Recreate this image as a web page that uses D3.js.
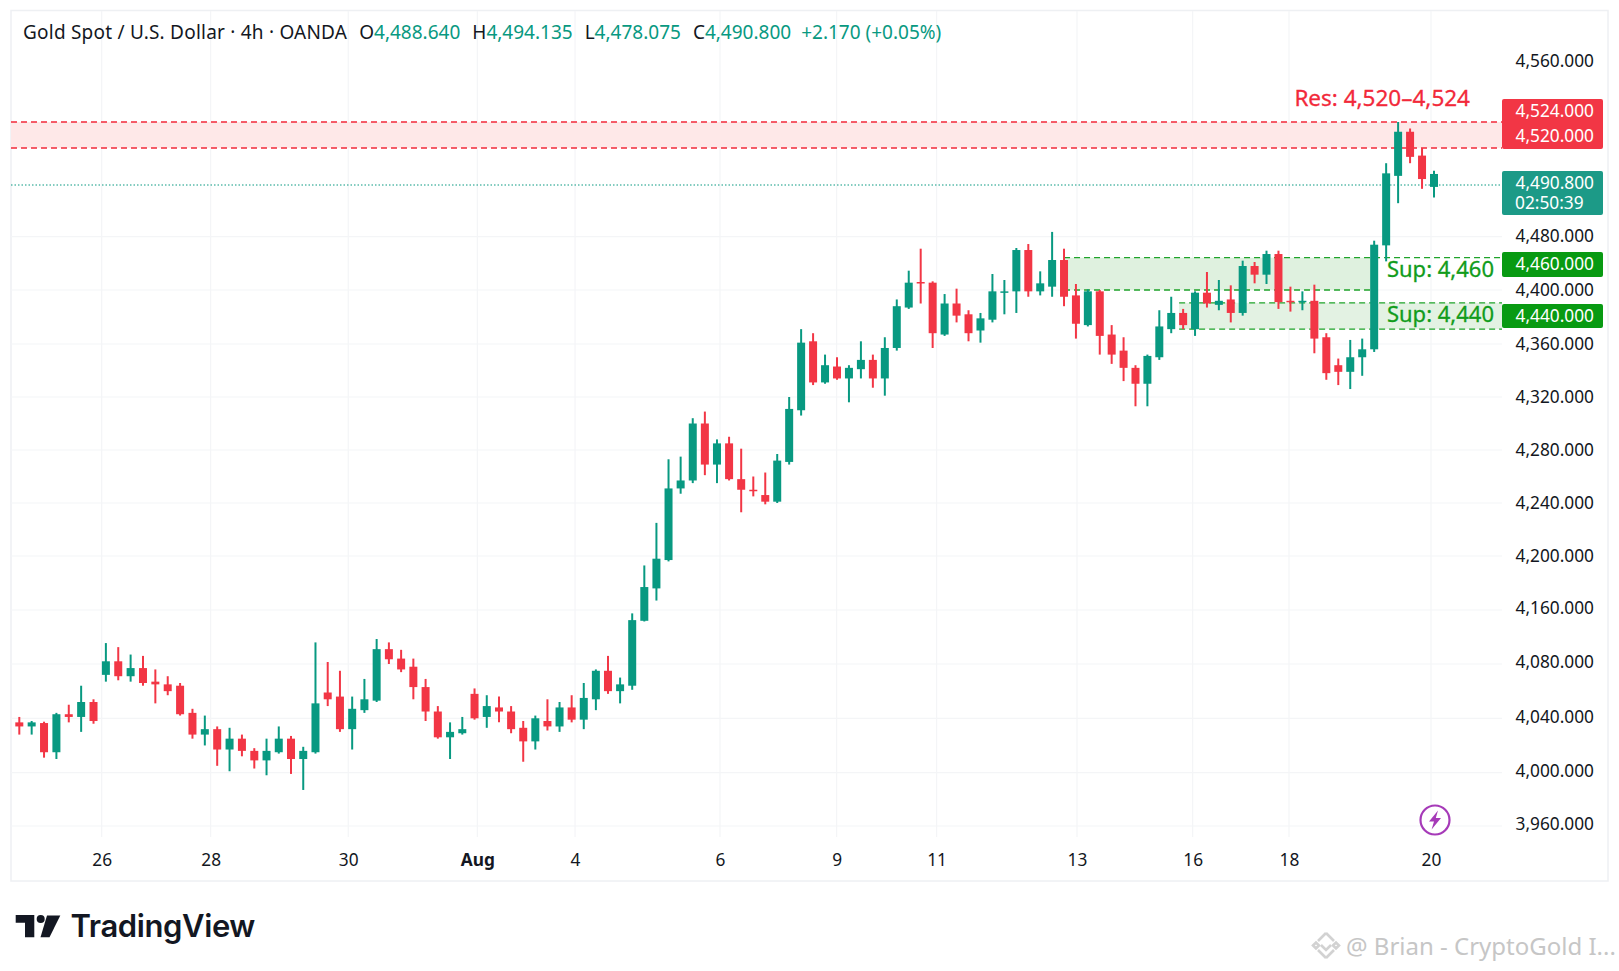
<!DOCTYPE html>
<html>
<head>
<meta charset="utf-8">
<title>Gold Spot / U.S. Dollar 4h</title>
<script src="https://cdn.jsdelivr.net/npm/d3@7"></script>
<style>
  html, body { margin: 0; padding: 0; background: #fff; }
  svg { display: block; font-family: "Noto Sans", sans-serif; }
  .axis path { display: none; }
  .axis line { display: none; }
  .axis text { font-family: "Noto Sans", sans-serif; font-size: 17.3px; fill: #131722; }
</style>
</head>
<body>
<div id="chart"></div>
<script>
// Candle values, against the printed price axis
const opens = [
  4037,4034,4036.5,4015,4043,4041,4052,4072,4084,4071,
  4077,4067,4065,4064,4044,4028,4032,4017,4025,4016,
  4009,4015,4025,4010,4015,4059,4056,4032,4046,4053,
  4102,4088,4078,4063,4045,4026,4029,4058,4041,4048,
  4045,4033,4023,4038,4034,4048,4039,4054,4075,4060,
  4064,4144,4176,4197,4251,4257,4300,4269,4285,4258,
  4250,4246,4241,4271,4310,4362,4331,4343,4334,4341,
  4348,4334,4357,4387,4412,4411,4367,4390,4382,4370,
  4378,4398,4399,4460,4399,4405,4445,4396,4374,4399,
  4367,4355,4342,4330,4350,4371,4383,4371,4398,4389,
  4393,4383,4436,4423,4454,4392,4391,4392,4365,4344,
  4339,4350,4356,4467,4498,4522.5,4514,4490.4
];
const highs = [
  4041,4038,4037.5,4044,4050,4064,4054,4111,4105,4094,
  4092,4076,4071,4066,4047,4042,4034,4033,4028,4018,
  4025,4034,4027,4019,4112,4083,4075,4056,4069,4117,
  4112,4101,4088,4069,4049,4037,4041,4062,4057,4056,
  4049,4038,4042,4054,4052,4057,4066,4076,4092,4070,
  4155,4193,4225,4273,4275,4304,4309,4288,4290,4281,
  4260,4263,4277,4320,4371,4368,4352,4350,4344,4362,
  4352,4365,4393,4429,4462,4413,4397,4402,4385,4383,
  4424,4415,4463,4469,4428,4481,4462,4409,4401,4400,
  4374,4365,4344,4352,4385,4395,4386,4399,4427,4415,
  4407,4444,4442,4459,4459,4405,4399,4408,4368,4349,
  4363,4364,4474,4508,4524,4523,4520,4502
];
const lows = [
  4028,4028,4011,4010,4037,4030,4036,4067,4068,4067,
  4064,4051,4057,4042,4025,4020,4005,4001,4012,4003,
  3998,4014,3999,3987,4014,4049,4030,4017,4044,4052,
  4080,4074,4054,4038,4025,4010,4028,4039,4033,4037,
  4029,4008,4017,4031,4030,4037,4032,4046,4058,4051,
  4061,4143,4167,4196,4247,4255,4261,4255,4257,4233,
  4245,4239,4240,4269,4306,4329,4330,4333,4316,4334,
  4327,4321,4355,4386,4390,4357,4366,4376,4362,4361,
  4376,4382,4383,4395,4396,4395,4388,4364,4373,4352,
  4345,4332,4313,4313,4348,4368,4371,4366,4387,4385,
  4376,4381,4410,4409,4386,4384,4385,4353,4333,4329,
  4326,4336,4354,4443,4487,4508,4490,4488.2
];
const closes = [
  4034,4037,4015,4043,4041,4052,4038,4084,4071,4077,
  4066,4065,4060,4043,4028,4032,4017,4025,4016,4009,
  4016,4025,4010,4016,4051,4054,4032,4047,4054,4102,
  4087,4076,4063,4045,4026,4030,4032,4040,4049,4045,
  4032,4023,4040,4034,4048,4039,4055,4075,4060,4065,
  4145,4177,4198,4251,4257,4300,4269,4285,4258,4250,
  4249,4241,4272,4311,4361,4331,4344,4334,4342,4348,
  4334,4357,4388,4411,4410,4368,4390,4381,4368,4379,
  4399,4399,4460,4399,4410,4445,4395,4375,4399,4366,
  4352,4342,4330,4351,4373,4383,4374,4398,4390,4392,
  4383,4436,4423,4454,4391,4391,4392,4364,4338,4339,
  4350,4356,4468,4500,4522.5,4513,4495.5,4499.5
];

// Axis labels. The printed scale is not even, so the stops are kept apart from the ticks
const priceTicks = [3960,4000,4040,4080,4160,4200,4240,4280,4320,4360,4400,4480,4560];
const timeTicks = [6.66,15.47,26.68,37.23,45.28,57.25,66.97,75.33,87.09,96.8,104.88,116.75];
const timeLabels = ["26","28","30","Aug","4","6","9","11","13","16","18","20"];

// Levels drawn on the chart
const lastPrice = 4490.8;
const resZone = [4520,4524];
const supUpper = [4400,4448.5];
const supLower = [4371,4390.5];

const width = 1619, height = 971;
const plot = { left: 11, right: 1502, top: 11, bottom: 837 };
const green = "#089981", red = "#f23645", tagGreen = "#089a12", tagTeal = "#1c9a87";

const fmt = d3.format(",.3f");

const svg = d3.select("#chart").append("svg")
  .attr("width", width)
  .attr("height", height);

// The candle spacing drifts a little across the picture
const x = d3.scaleLinear()
  .domain([0, 19, 39, 60, 83, 103, 117])
  .range([19.3, 254.3, 499, 753.3, 1028.3, 1266.5, 1434]);
const y = d3.scaleLinear()
  .domain([3960,4000,4040,4080,4160,4200,4240,4280,4320,4360,4400,4480,lastPrice,resZone[0],resZone[1],4560])
  .range([826,772.6,718.3,664,610,556,503,450,397,344,290,236.7,185,148,122,61]);

// Outer frame
svg.append("rect")
  .attr("x", 11).attr("y", 10.5)
  .attr("width", 1597).attr("height", 870.5)
  .attr("fill", "none").attr("stroke", "#eef0f3").attr("stroke-width", 1.5);

// Grid
svg.append("g").selectAll("line")
  .data(priceTicks.slice(0, -1))
  .join("line")
  .attr("x1", plot.left).attr("x2", plot.right)
  .attr("y1", d => y(d)).attr("y2", d => y(d))
  .attr("stroke", "#f4f5f7").attr("stroke-width", 1.2);

svg.append("g").selectAll("line")
  .data(timeTicks)
  .join("line")
  .attr("x1", d => x(d)).attr("x2", d => x(d))
  .attr("y1", plot.top).attr("y2", plot.bottom)
  .attr("stroke", "#f4f5f7").attr("stroke-width", 1.2);

// Zones go under the candles
function drawZone(levels, x0, x1, fill, colour, lowerEnd) {
  svg.append("rect")
    .attr("x", x0).attr("width", x1 - x0)
    .attr("y", y(levels[1])).attr("height", y(levels[0]) - y(levels[1]))
    .attr("fill", fill);
  svg.append("line")
    .attr("x1", x0).attr("x2", lowerEnd)
    .attr("y1", y(levels[0])).attr("y2", y(levels[0]))
    .attr("stroke", colour).attr("stroke-width", 1.3).attr("stroke-dasharray", "6 4");
  svg.append("line")
    .attr("x1", x0).attr("x2", plot.right)
    .attr("y1", y(levels[1])).attr("y2", y(levels[1]))
    .attr("stroke", colour).attr("stroke-width", 1.3).attr("stroke-dasharray", "6 4");
}
drawZone(resZone, plot.left, plot.right, "#fee8e8", "#f2293a", plot.right);
drawZone(supUpper, x(86), x(112), "#dff1df", "#1fa32a", x(112));
drawZone(supLower, x(96) - 4, plot.right, "#e3f2e3", "#1fa32a", plot.right);

// Last price line
svg.append("line")
  .attr("x1", plot.left).attr("x2", plot.right)
  .attr("y1", y(lastPrice)).attr("y2", y(lastPrice))
  .attr("stroke", green).attr("stroke-width", 1).attr("stroke-dasharray", "1.5 2");

// Candles
const candles = svg.append("g").selectAll("g")
  .data(d3.range(opens.length))
  .join("g")
  .attr("fill", i => closes[i] >= opens[i] ? green : red)
  .attr("stroke", i => closes[i] >= opens[i] ? green : red);

candles.append("line")
  .attr("x1", i => x(i)).attr("x2", i => x(i))
  .attr("y1", i => y(highs[i])).attr("y2", i => y(lows[i]))
  .attr("stroke-width", 2);

candles.append("rect")
  .attr("x", i => x(i) - 4)
  .attr("width", 8)
  .attr("y", i => y(Math.max(opens[i], closes[i])))
  .attr("height", i => Math.max(1.5, Math.abs(y(opens[i]) - y(closes[i]))))
  .attr("stroke", "none");

// Axes
svg.append("g")
  .attr("class", "axis")
  .attr("transform", "translate(1594,0)")
  .call(d3.axisLeft(y).tickValues(priceTicks).tickFormat(fmt).tickSize(0).tickPadding(0))
  .selectAll("text")
  .attr("y", d => d <= 4160 ? -1.8 : -0.5);

svg.append("g")
  .attr("class", "axis")
  .attr("transform", "translate(0,854)")
  .call(d3.axisBottom(x).tickValues(timeTicks).tickFormat((d, i) => timeLabels[i]).tickSize(0).tickPadding(0))
  .selectAll("text")
  .style("font-weight", (d, i) => timeLabels[i] === "Aug" ? 700 : null);

// Price tags on the axis
function priceTag(y0, y1, fill, lines) {
  svg.append("rect")
    .attr("x", 1502).attr("y", y0)
    .attr("width", 101).attr("height", y1 - y0)
    .attr("rx", 2)
    .attr("fill", fill);
  lines.forEach(l => {
    svg.append("text")
      .attr("x", l.start ? l.start : 1594).attr("y", l.y)
      .attr("text-anchor", l.start ? "start" : "end").attr("dominant-baseline", "central")
      .attr("font-size", 17.3).attr("fill", "#fff")
      .text(l.text);
  });
}
priceTag(99, 149, red, [
  { y: 110, text: fmt(resZone[1]) },
  { y: 135, text: fmt(resZone[0]) }
]);
priceTag(171, 215, tagTeal, [
  { y: 182, text: fmt(lastPrice) },
  { y: 202, text: "02:50:39", start: 1515 }
]);
priceTag(252, 277, tagGreen, [{ y: 263, text: fmt(4460) }]);
priceTag(304, 328, tagGreen, [{ y: 315, text: fmt(4440) }]);

// Annotations
function note(xEnd, yBase, text, fill, size) {
  svg.append("text")
    .attr("x", xEnd).attr("y", yBase)
    .attr("text-anchor", "end")
    .attr("font-size", size)
    .attr("fill", fill).attr("stroke", fill).attr("stroke-width", 0.3)
    .text(text);
}
note(1470, 106, "Res: 4,520\u20134,524", "#f2293a", 22.5);
note(1494, 277, "Sup: 4,460", "#119c1b", 22);
note(1494, 322, "Sup: 4,440", "#119c1b", 22);

// Header line
const header = svg.append("text")
  .attr("x", 23).attr("y", 38.5)
  .attr("font-size", 19).attr("fill", "#131722");
header.append("tspan").attr("letter-spacing", 0.22).text("Gold Spot / U.S. Dollar \u00b7 4h \u00b7 OANDA");
[["O","4,488.640"],["H","4,494.135"],["L","4,478.075"],["C","4,490.800"]].forEach(d => {
  header.append("tspan").attr("dx", 12).text(d[0]);
  header.append("tspan").attr("fill", green).text(d[1]);
});
header.append("tspan").attr("dx", 10).attr("fill", green).text("+2.170 (+0.05%)");

// Lightning badge
const badge = svg.append("g").attr("transform", "translate(1435,820)");
badge.append("circle").attr("r", 14.5).attr("fill", "#fff").attr("stroke", "#a63ab8").attr("stroke-width", 2.2);
badge.append("path").attr("d", "M3,-9.5 L-6,1.5 L-1,1.5 L-3.4,9.5 L6,-2 L0.8,-2 Z").attr("fill", "#a63ab8");

// TradingView logo
const logo = svg.append("g").attr("fill", "#131722");
logo.append("path").attr("d", "M15.7,915 H34.3 V937.3 H25 V922.7 H15.7 Z");
logo.append("circle").attr("cx", 40.7).attr("cy", 919).attr("r", 4);
logo.append("path").attr("d", "M47,915.5 H60.3 L49.5,937.3 H40.5 Z");
logo.append("text")
  .attr("x", 70.5).attr("y", 937)
  .attr("font-family", "Inter, sans-serif")
  .attr("font-size", 31).attr("font-weight", 600)
  .attr("letter-spacing", -0.4)
  .text("TradingView");

// Watermark
const mark = svg.append("g").attr("fill", "none").attr("stroke", "#d2d2d2").attr("stroke-width", 2.6);
mark.append("path").attr("d", "M1326,933 L1334,941 M1326,933 L1318,941 M1321,945 L1326,950 L1331,945 M1326,958 L1334,950 M1326,958 L1318,950");
mark.append("path").attr("d", "M1313,945.5 L1316,942.5 L1319,945.5 L1316,948.5 Z M1333,945.5 L1336,942.5 L1339,945.5 L1336,948.5 Z");
svg.append("text")
  .attr("x", 1346).attr("y", 955)
  .attr("font-size", 24).attr("fill", "#c6c6c6")
  .text("@ Brian - CryptoGold I...");
</script>
</body>
</html>
